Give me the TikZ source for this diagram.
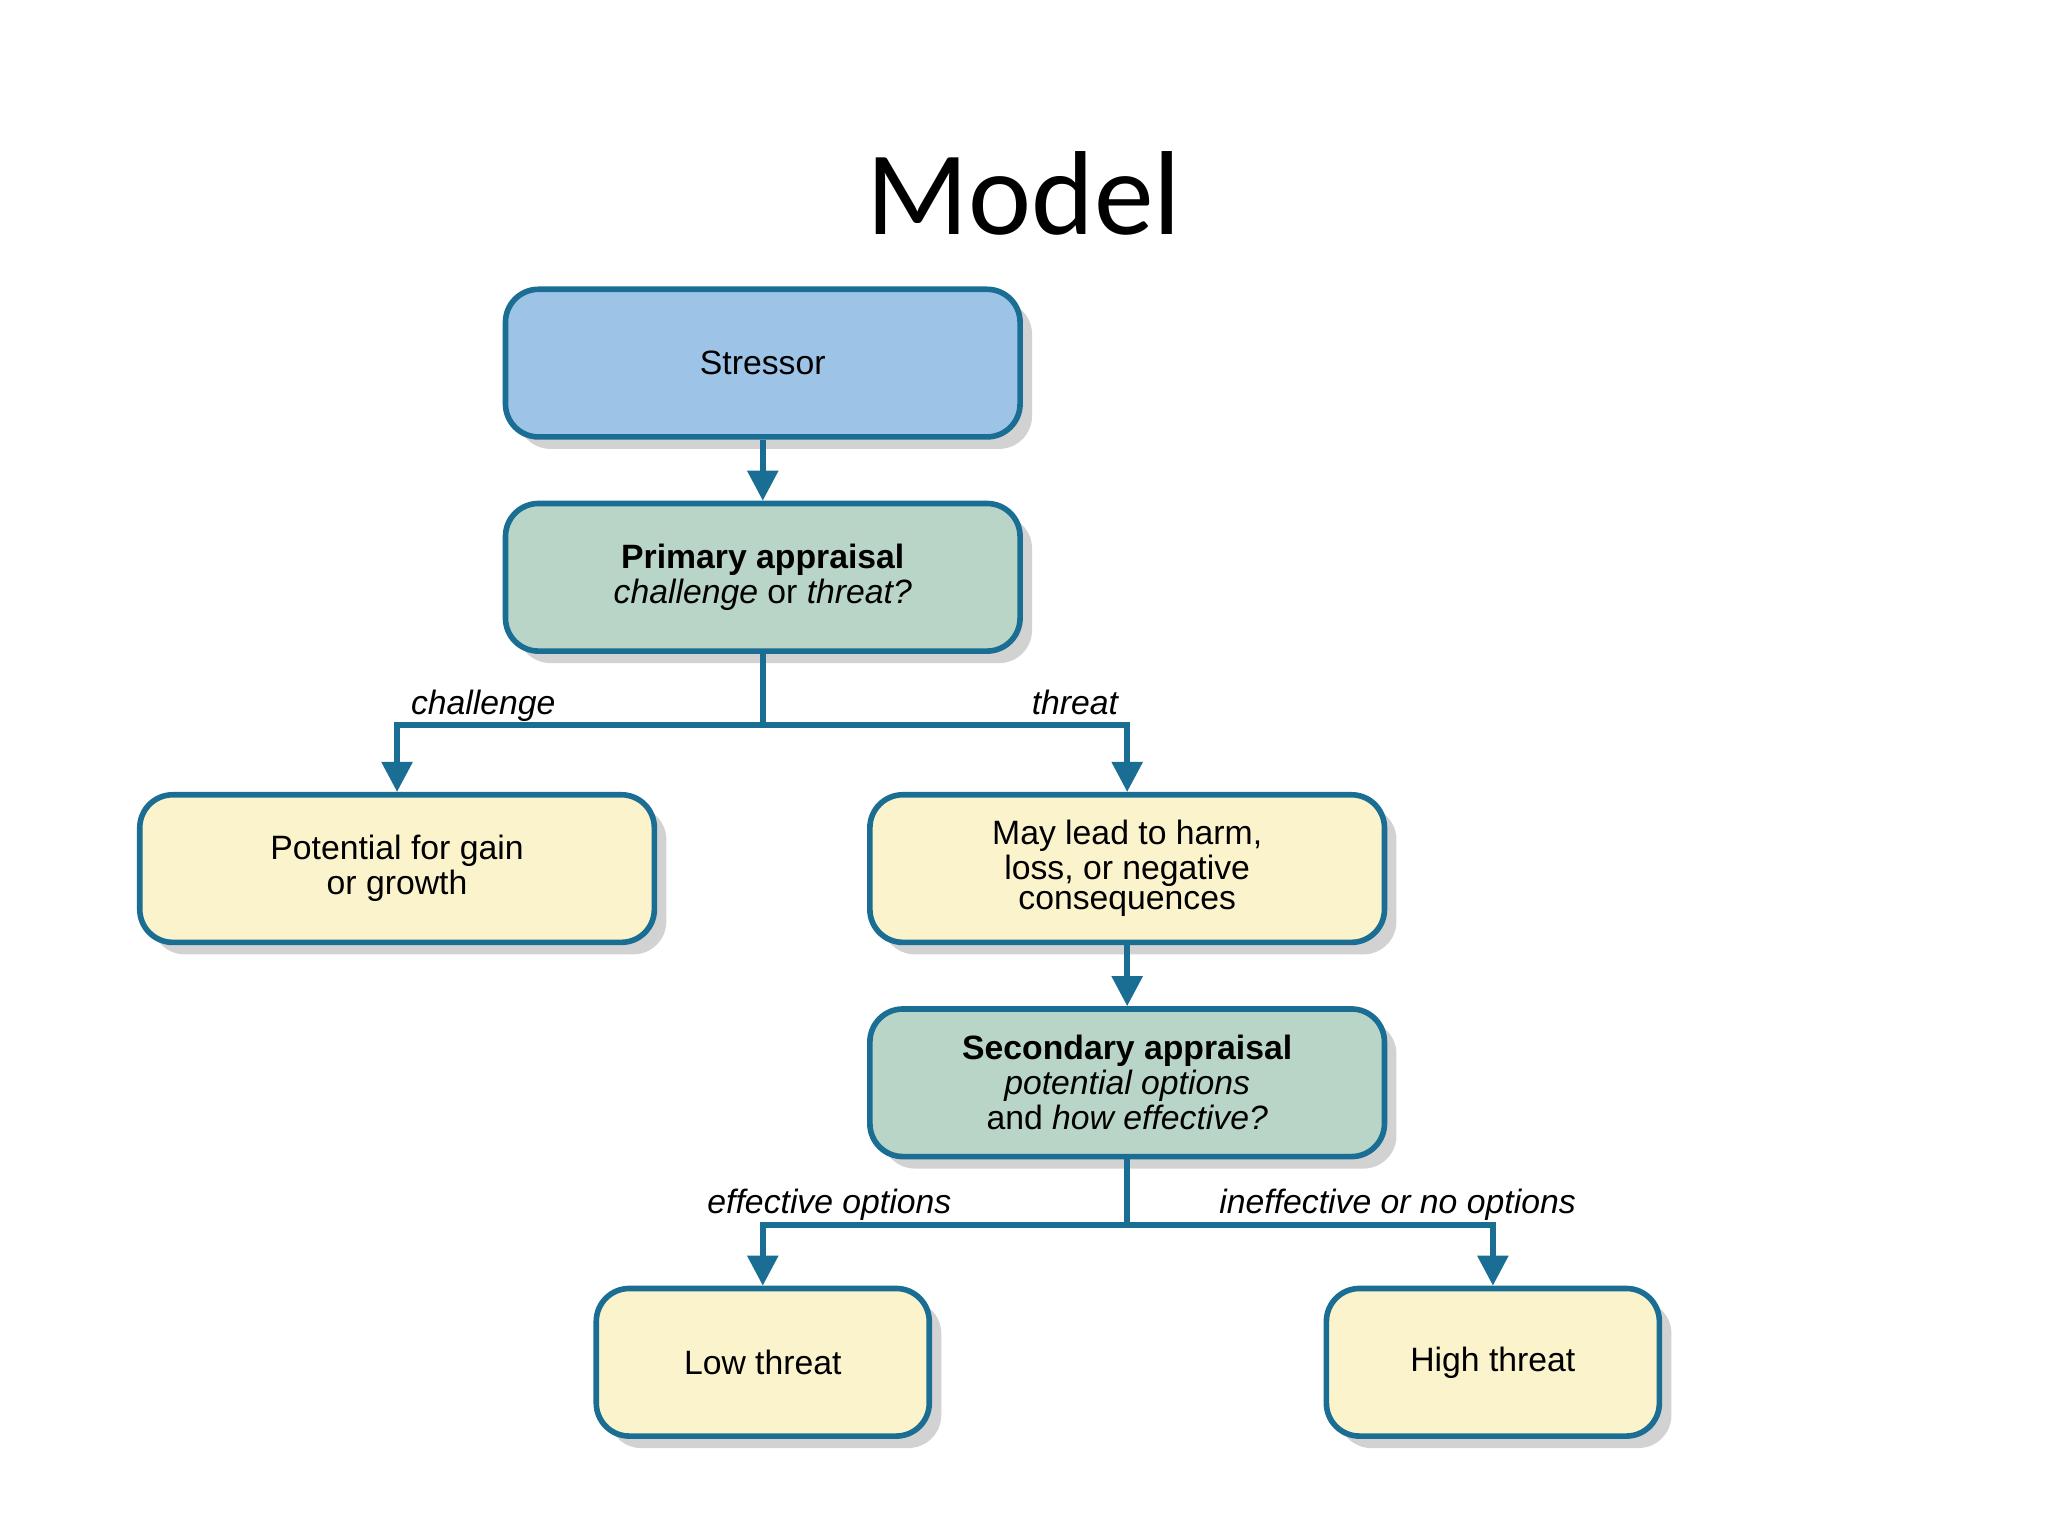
\documentclass[tikz,border=0pt]{standalone}
\usepackage{fontspec}
\setmainfont{Liberation Sans}
\newfontfamily\titlefont{Carlito}
\usetikzlibrary{shadows,arrows.meta}
\definecolor{edge}{HTML}{1B6E93}
\definecolor{blu}{HTML}{9DC3E6}
\definecolor{grn}{HTML}{B8D5C8}
\definecolor{yel}{HTML}{FAF3CC}
\begin{document}
\begin{tikzpicture}[x=0.01306cm,y=-0.01306cm,
  box/.style={draw=edge,line width=1.6pt,rounded corners=0.33cm,minimum height=1.476cm,
    align=center,font=\fontsize{9.6}{8.6}\selectfont,inner sep=0pt,
    drop shadow={shadow xshift=0.12cm,shadow yshift=-0.12cm,opacity=0.35,fill=gray}},
  wide/.style={box,minimum width=5.146cm},
  narrow/.style={box,minimum width=3.33cm},
  con/.style={draw=edge,line width=1.6pt},
  arr/.style={con,-{Triangle[length=0.3cm,width=0.3cm]}},
  lab/.style={font=\fontsize{9.6}{9.6}\selectfont\itshape,anchor=base}]
\useasboundingbox (0,0) rectangle (1568,1176);
\fill[white] (0,0) rectangle (1568,1176);
\node[font=\titlefont\fontsize{34}{34}\selectfont] (title) at (784,148) {Model};
\node[wide,fill=blu] (s) at (584,278) {Stressor};
\node[wide,fill=grn] (p) at (584,442) {\textbf{Primary appraisal}\\\textit{challenge} or \textit{threat?}};
\node[wide,fill=yel] (g) at (304,665) {Potential for gain\\or growth};
\node[wide,fill=yel] (h) at (863,665) {May lead to harm,\\loss, or negative\\consequences};
\node[wide,fill=grn] (sa) at (863,829) {\textbf{Secondary appraisal}\\\textit{potential options}\\and \textit{how effective?}};
\node[narrow,fill=yel] (lo) at (584,1043) {Low threat};
\node[narrow,fill=yel] (hi) at (1143,1043) {High threat};
\coordinate (j1) at (584,555);
\coordinate (j2) at (863,938);
\draw[arr] (s) -- (p);
\draw[con] (p) -- (j1);
\draw[arr] (j1) -| (g.north);
\draw[arr] (j1) -| (h.north);
\draw[arr] (h) -- (sa);
\draw[con] (sa) -- (j2);
\draw[arr] (j2) -| (lo.north);
\draw[arr] (j2) -| (hi.north);
\node[lab] (l1) at (370,547) {challenge};
\node[lab] (l2) at (823,547) {threat};
\node[lab] (l3) at (635,929) {effective options};
\node[lab] (l4) at (1070,929) {ineffective or no options};
\end{tikzpicture}
\end{document}
